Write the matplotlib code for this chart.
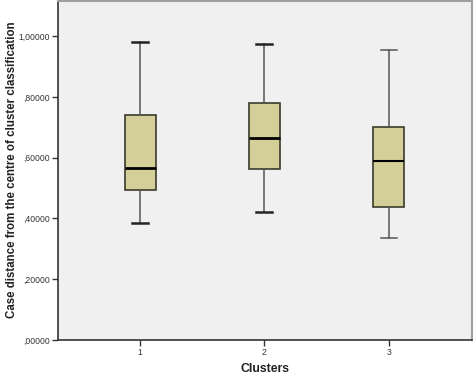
import matplotlib
matplotlib.use("Agg")
import matplotlib.pyplot as plt
from matplotlib.ticker import FuncFormatter

clusters = [1, 2, 3]
whisker_low = [0.384, 0.420, 0.334]
q1 = [0.495, 0.564, 0.436]
median = [0.567, 0.666, 0.590]
q3 = [0.741, 0.780, 0.702]
whisker_high = [0.980, 0.974, 0.954]

plt.rcParams['font.family'] = ['Liberation Sans', 'DejaVu Sans']

fig = plt.figure(figsize=(4.74, 3.77), dpi=100)
ax = fig.add_axes([0.1224, 0.0981, 0.8734, 0.899])
ax.set_facecolor('#f0f0f0')

stats = []
for i, c in enumerate(clusters):
    stats.append({'label': str(c), 'whislo': whisker_low[i], 'q1': q1[i],
                  'med': median[i], 'q3': q3[i], 'whishi': whisker_high[i]})

bp = ax.bxp(stats, positions=clusters, widths=0.25, showfliers=False,
            patch_artist=True,
            boxprops=dict(facecolor='#d4cf98', edgecolor='#3a3a2a', linewidth=1.2),
            medianprops=dict(color='black', linewidth=2),
            whiskerprops=dict(color='#555555', linewidth=1.1),
            capprops=dict(color='#222222', linewidth=1.8),
            capwidths=0.13)

# third box looks lighter in the original
for cap in bp['caps'][4:6]:
    cap.set_color('#555555')
    cap.set_linewidth(1.1)
bp['medians'][2].set_linewidth(1.5)

ax.set_xlim(0.34, 3.67)
ax.set_ylim(0, 1.115)
ax.set_yticks([0, 0.2, 0.4, 0.6, 0.8, 1.0])

def fmt(v, pos):
    s = f"{v:.5f}".replace('.', ',')
    if s.startswith('0'):
        s = s[1:]
    return s

ax.yaxis.set_major_formatter(FuncFormatter(fmt))
ax.tick_params(axis='both', labelsize=6.2, labelcolor='#333333', length=4,
               width=1, color='#333333', direction='out', pad=2)

for s in ['left', 'bottom']:
    ax.spines[s].set_color('#333333')
    ax.spines[s].set_linewidth(1.2)
for s in ['top', 'right']:
    ax.spines[s].set_color('#a0a0a0')
    ax.spines[s].set_linewidth(1.5)

fig.text(265 / 474, 1 - 369 / 377, 'Clusters', fontsize=8.8, fontweight='bold',
         color='#222222', ha='center', va='center')
fig.text(12 / 474, 1 - 170 / 377, 'Case distance from the centre of cluster classification',
         fontsize=8.3, fontweight='bold', color='#222222', ha='center', va='center',
         rotation=90)

fig.savefig('out.png', dpi=100)
